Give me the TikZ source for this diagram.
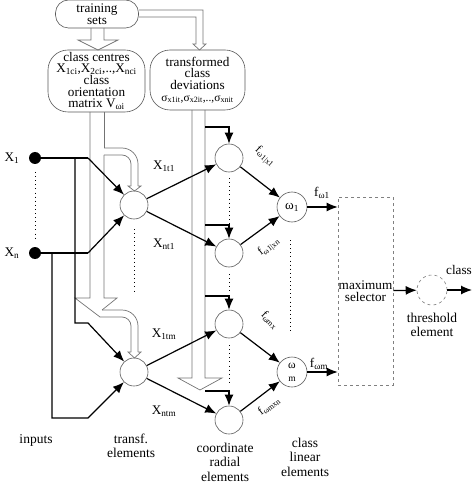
\documentclass[tikz,border=0pt]{standalone}
\usepackage{fontspec}
\setmainfont{Liberation Serif}
\usepackage{tikz}
\usetikzlibrary{arrows.meta}

\begin{document}
\begin{tikzpicture}[x=1pt, y=-1pt, font=\fontsize{13.2}{11.6}\selectfont,
  wire/.style={line width=1.2pt, -{Latex[length=11pt,width=9pt]}},
  line/.style={line width=1.2pt},
  hollow/.style={draw=black!55, line width=0.7pt},
  neuron/.style={circle, draw=black!65, line width=0.6pt, minimum size=28pt, inner sep=0pt},
  box/.style={draw=black!65, line width=0.6pt, align=center, inner sep=0pt},
  dotline/.style={line width=1pt, dash pattern=on 0.9pt off 3.2pt},
  lbl/.style={align=center, font=\fontsize{13.5}{14.5}\selectfont},
  flbl/.style={font=\fontsize{11.5}{11}\selectfont, inner sep=1pt}]
\useasboundingbox (0,0) rectangle (474,486);
%%%%% Boxes %%%%%
\node[box, rounded corners=13pt, minimum width=83pt, minimum height=28pt] (train) at (97,14) {training\\sets};
\node[box, rounded corners=20pt, minimum width=97pt, minimum height=62pt] (centre) at (96.5,81)
  {class centres\\X\textsubscript{1ci},X\textsubscript{2ci},..,X\textsubscript{nci}\\class\\orientation\\matrix V\textsubscript{ωi}};
\node[box, rounded corners=20pt, minimum width=95pt, minimum height=60pt] (dev) at (197.5,80)
  {transformed\\class\\deviations\\{\fontsize{11.5}{12}\selectfont σ\textsubscript{x1it},σ\textsubscript{x2it},..,σ\textsubscript{xnit}}};
%%%%% Hollow arrows %%%%%
\draw[hollow] (91,28) -- (91,40) -- (78,40) -- (98,50) -- (118,40) -- (104,40) -- (104,28);
\draw[hollow] (139,10) -- (203,10) -- (203,44) -- (206,44) -- (199.5,50) -- (193,44) -- (196,44) -- (196,17) -- (139,17);
\draw[hollow] (90,112) -- (90,298) -- (75,298) -- (100,317);
\draw[hollow] (104,112) -- (104,148);
\draw[hollow] (104,155) -- (104,298) -- (117,298) -- (102,310);
\draw[hollow, rounded corners=16pt] (104,148) -- (138,148) -- (138,186);
\draw[hollow, rounded corners=9pt] (104,155) -- (131,155) -- (131,186);
\draw[hollow] (131,186) -- (128,186) -- (134.5,191) -- (141,186) -- (138,186);
\draw[hollow, rounded corners=16pt] (102,310) -- (138,310) -- (138,352);
\draw[hollow, rounded corners=9pt] (100,317) -- (131,317) -- (131,352);
\draw[hollow] (131,352) -- (128,352) -- (134.5,358) -- (141,352) -- (138,352);
\draw[hollow] (192,110) -- (192,378) -- (178,378) -- (200,390) -- (222,378) -- (205,378) -- (205,110);
%%%%% Nodes %%%%%
\node[circle, fill, inner sep=0pt, minimum size=12pt] (x1) at (35,158) {};
\node[circle, fill, inner sep=0pt, minimum size=12pt] (xn) at (35,253) {};
\node (lx1) at (12,158) {X\textsubscript{1}};
\node (lxn) at (12,253) {X\textsubscript{n}};
\node[neuron] (t1) at (134,205) {};
\node[neuron] (tm) at (134,372) {};
\node[neuron] (r1) at (229,158) {};
\node[neuron] (r2) at (229,253) {};
\node[neuron] (r3) at (229,324) {};
\node[neuron] (r4) at (229,420) {};
\node[neuron, minimum size=30pt] (w1) at (292,207) {ω\textsubscript{1}};
\node[neuron, minimum size=30pt, align=center, font=\fontsize{11.5}{13}\selectfont] (wm) at (292,372) {ω\\{\fontsize{9.5}{9}\selectfont m}};
\node[box, draw=black!50, dashed, minimum width=55pt, minimum height=188pt] (sel) at (365.5,291) {maximum\\selector};
\node[neuron, draw=black!50, dashed, minimum size=30pt] (thr) at (432,290) {};
\coordinate (out) at (472,290);
%%%%% Input wires %%%%%
\coordinate (a1) at (88,158); \coordinate (b1) at (75,158);
\coordinate (b2) at (75,323); \coordinate (a2) at (88,323);
\coordinate (c1) at (88,253); \coordinate (d1) at (52,253);
\coordinate (d2) at (52,418); \coordinate (c2) at (88,418);
\draw[line] (x1) -- (a1);
\draw[wire] (a1) -- (t1);
\draw[wire] (b1) -- (b2) -- (a2) -- (tm);
\draw[line] (xn) -- (c1);
\draw[wire] (c1) -- (t1);
\draw[wire] (d1) -- (d2) -- (c2) -- (tm);
%%%%% Transformed coordinates %%%%%
\draw[wire] (t1) -- (r1);
\draw[wire] (t1) -- (r2);
\draw[wire] (tm) -- (r3);
\draw[wire] (tm) -- (r4);
\node (l1t1) at (164,166) {X\textsubscript{1t1}};
\node (lnt1) at (164,244) {X\textsubscript{nt1}};
\node (l1tm) at (164,334) {X\textsubscript{1tm}};
\node (lntm) at (164,411) {X\textsubscript{ntm}};
\foreach \n/\y in {r1/127, r2/225, r3/296, r4/391}{
  \coordinate (br\n) at (205,\y);
  \draw[wire] (br\n) -| (\n);
}
%%%%% Class elements %%%%%
\draw[wire] (r1) -- (w1);
\draw[wire] (r2) -- (w1);
\draw[wire] (r3) -- (wm);
\draw[wire] (r4) -- (wm);
\node[flbl, rotate=-42] (f11) at (265,157) {f\textsubscript{ω1|x1}};
\node[flbl, rotate=38] (f1n) at (269,247) {f\textsubscript{ω1|xn}};
\node[flbl, rotate=-45] (fm1) at (270,320) {f\textsubscript{ωmx}};
\node[flbl, rotate=38] (fmn) at (269,406) {f\textsubscript{ωmxn}};
\draw[wire] (w1) -- (w1 -| sel.west);
\draw[wire] (wm) -- (wm -| sel.west);
\node (fw1) at (322,193) {f\textsubscript{ω1}};
\node (fwm) at (319,364) {f\textsubscript{ωm}};
\draw[wire] (sel) -- (thr);
\draw[wire] (thr) -- (out);
\node (cls) at (459,270) {class};
%%%%% Dots %%%%%
\draw[dotline] (35,172) -- (35,240);
\draw[dotline] (134,229) -- (134,292);
\draw[dotline] (229,178) -- (229,236);
\draw[dotline] (229,274) -- (229,292);
\draw[dotline] (229,345) -- (229,384);
\draw[dotline] (290,240) -- (290,332);
%%%%% Labels %%%%%
\node[lbl] (linp) at (36,440) {inputs};
\node[lbl] (ltr) at (131,446) {transf.\\elements};
\node[lbl] (lrad) at (225,462) {coordinate\\radial\\elements};
\node[lbl] (llin) at (305,457) {class\\linear\\elements};
\node[lbl] (lthr) at (432,325) {threshold\\element};
\end{tikzpicture}
\end{document}
